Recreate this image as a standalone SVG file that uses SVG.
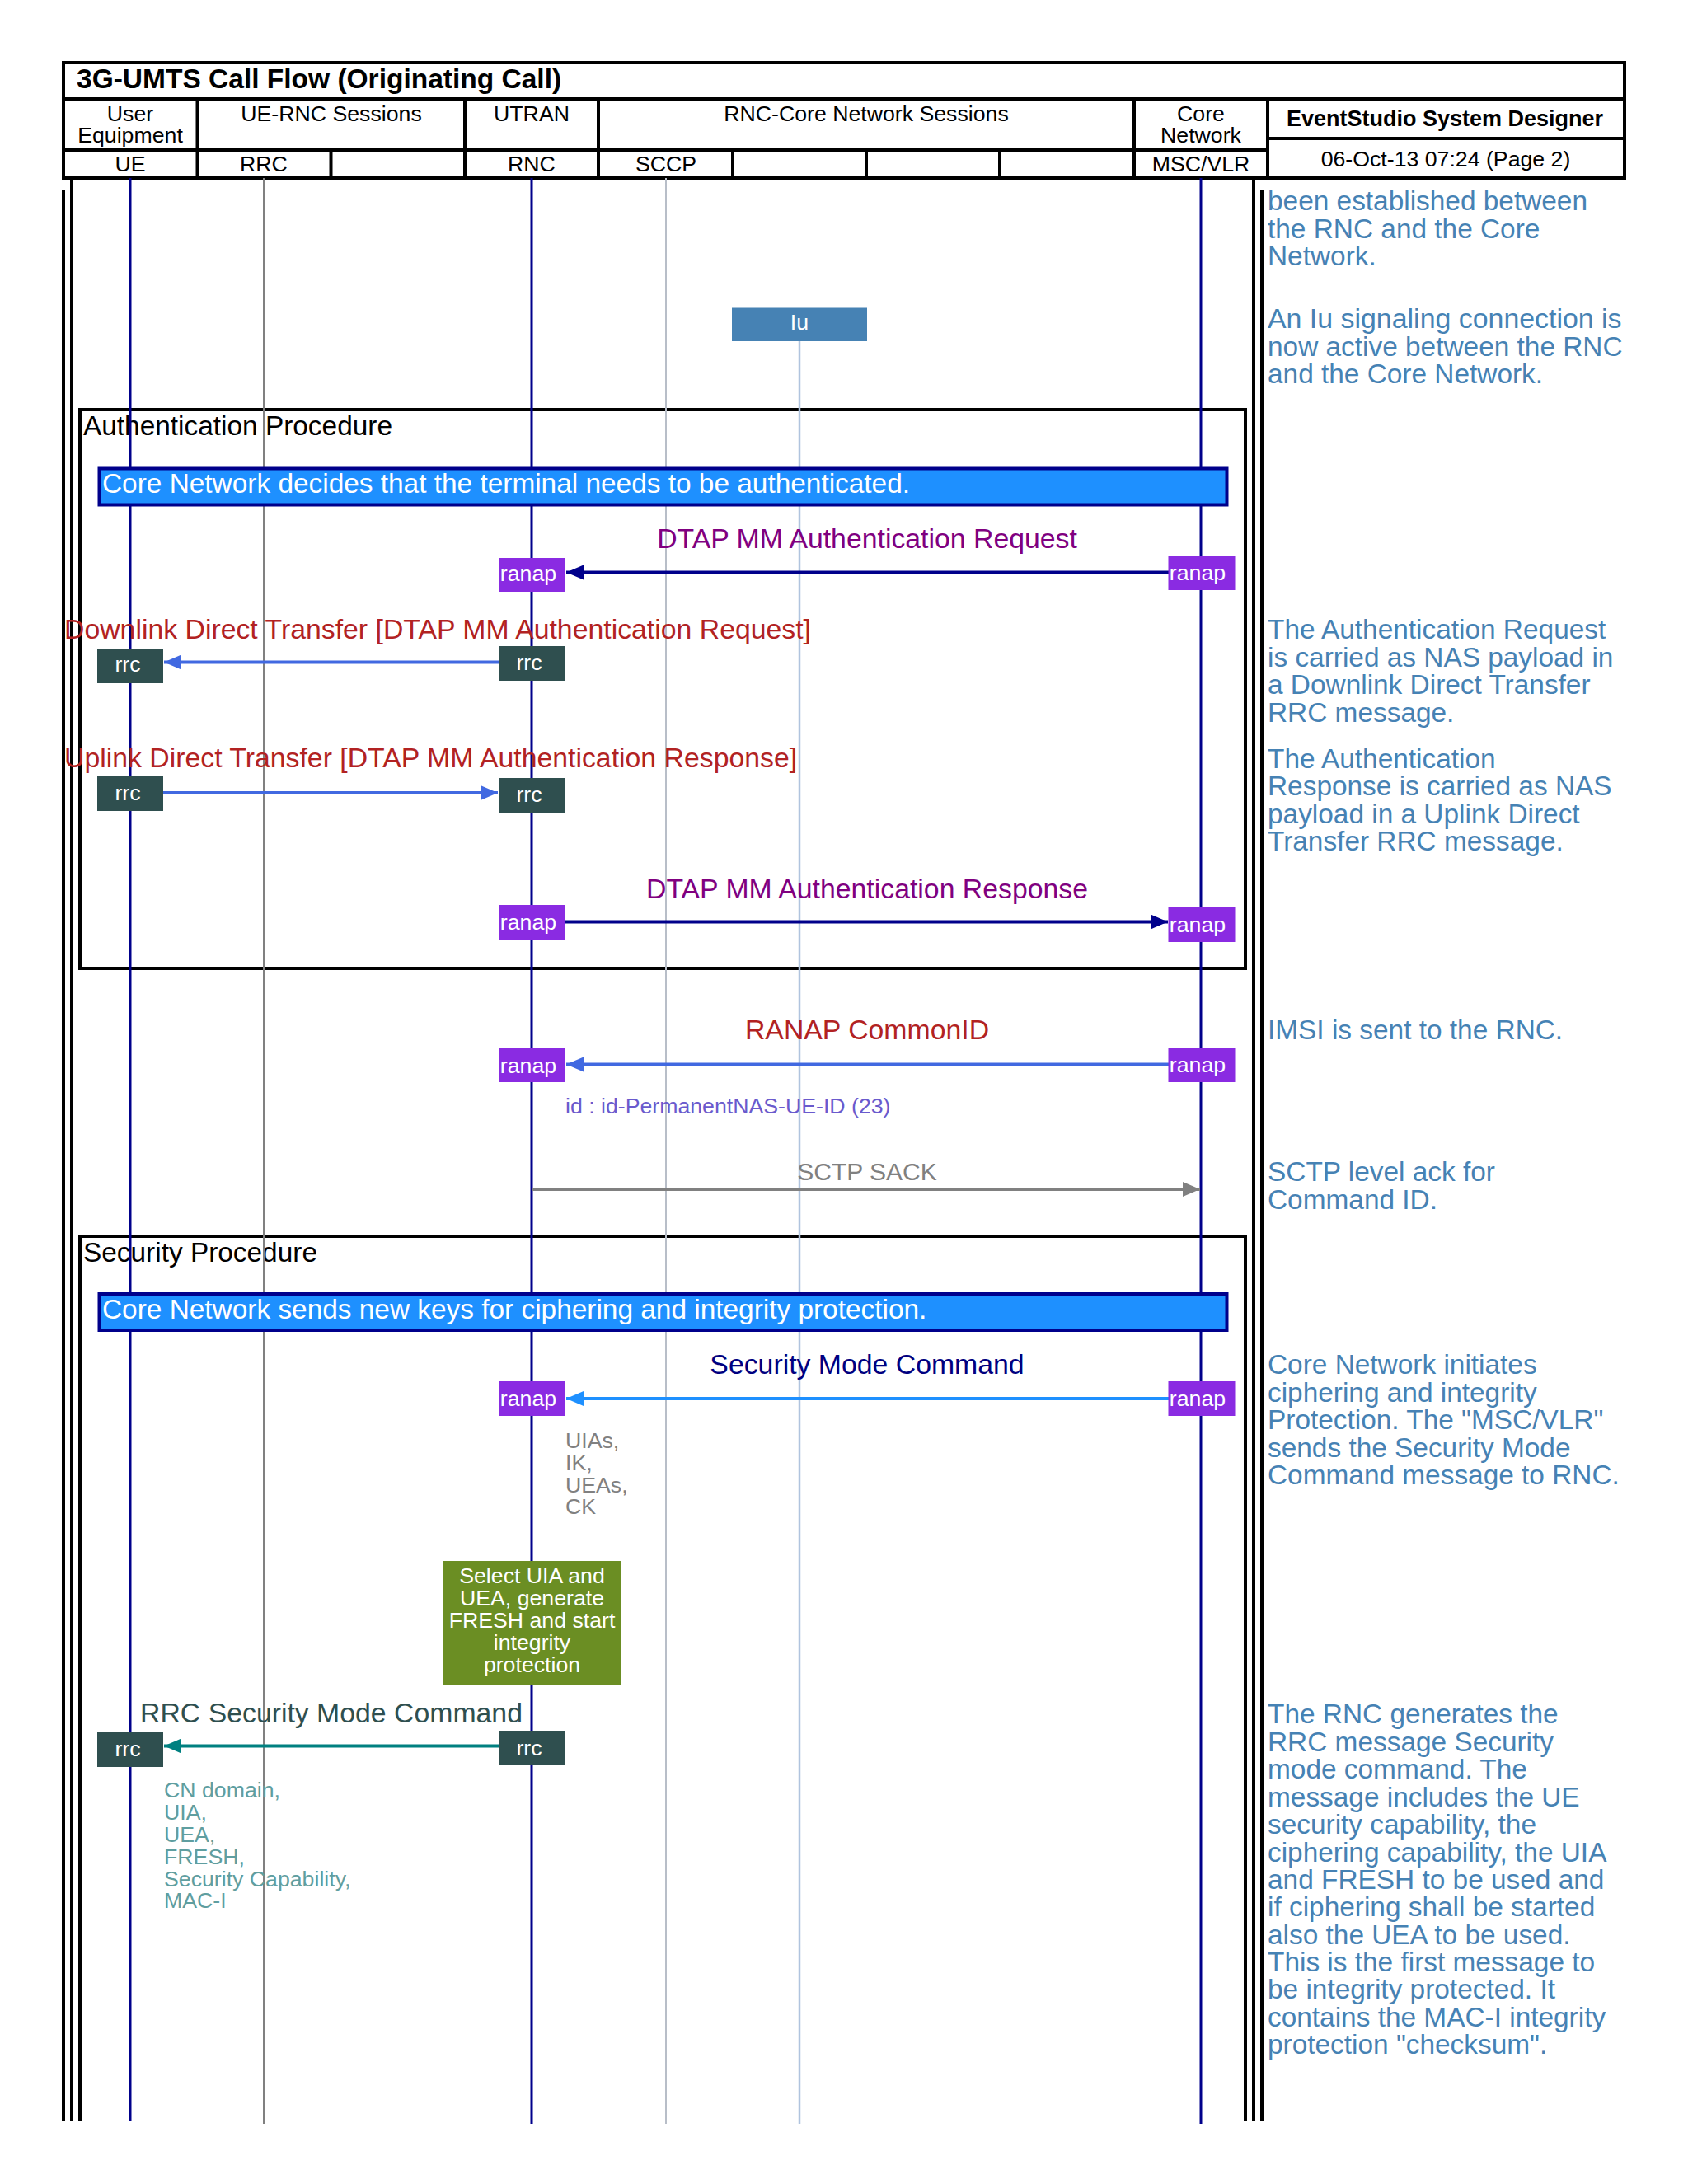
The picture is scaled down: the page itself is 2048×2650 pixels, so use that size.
<svg xmlns="http://www.w3.org/2000/svg" width="2048" height="2650" viewBox="0 0 2048 2650">
<style>
text{font-family:"Liberation Sans",Arial,sans-serif}
.b{fill:none;stroke:#000;stroke-width:4}
.h{font-size:26.7px;text-anchor:middle;fill:#000}
.note{font-size:33.4px;fill:#4682B4}
.ll{fill:none;stroke-width:3}
.nv{stroke:#00008B}
.gr{stroke:#808080;stroke-width:2}
.lb{stroke:#B0C4DE;stroke-width:2.500}
.lg{stroke:#B8BEC8;stroke-width:2}
.m{font-size:33.800px;text-anchor:middle}
.st{font-size:33.400px}
.red{font-size:33.800px;fill:#B22222}
.ar{fill:none;stroke-width:4}
.ranap{fill:#8A2BE2}
.rrc{fill:#2F4F4F}
.bt{font-size:26.7px;fill:#fff;text-anchor:middle}
.sm{font-size:26.7px}
</style>
<defs>
<marker id="aNavy" markerUnits="userSpaceOnUse" markerWidth="21" markerHeight="18" refX="21" refY="9" orient="auto"><path d="M0,0L21,9L0,18z" fill="#00008B"/></marker>
<marker id="aRoyal" markerUnits="userSpaceOnUse" markerWidth="21" markerHeight="18" refX="21" refY="9" orient="auto"><path d="M0,0L21,9L0,18z" fill="#4169E1"/></marker>
<marker id="aGray" markerUnits="userSpaceOnUse" markerWidth="21" markerHeight="18" refX="21" refY="9" orient="auto"><path d="M0,0L21,9L0,18z" fill="#808080"/></marker>
<marker id="aDodger" markerUnits="userSpaceOnUse" markerWidth="21" markerHeight="18" refX="21" refY="9" orient="auto"><path d="M0,0L21,9L0,18z" fill="#1E90FF"/></marker>
<marker id="aTeal" markerUnits="userSpaceOnUse" markerWidth="21" markerHeight="18" refX="21" refY="9" orient="auto"><path d="M0,0L21,9L0,18z" fill="#008080"/></marker>
</defs>
<rect width="2048" height="2650" fill="#fff"/>
<g id="frame">
<rect class="b" x="77" y="76" width="1894" height="140"/>
<path class="b" d="M77 120H1971M77 182H1538M239.500 120V216M564 120V216M726 120V216M1376 120V216M1538 120V216M401.500 182V216M889 182V216M1051 182V216M1213 182V216M1538 168H1971"/>
<path class="b" d="M77 230V2574M87 216V2574M1521 216V2574M1531 230V2574"/>
<text x="93" y="107" font-size="33.500" font-weight="bold">3G-UMTS Call Flow (Originating Call)</text>
<text class="h" x="158" y="147">User</text><text class="h" x="158" y="173">Equipment</text>
<text class="h" x="402" y="147">UE-RNC Sessions</text>
<text class="h" x="645" y="147">UTRAN</text>
<text class="h" x="1051" y="147">RNC-Core Network Sessions</text>
<text class="h" x="1457" y="147">Core</text><text class="h" x="1457" y="173">Network</text>
<text class="h" x="158" y="208">UE</text><text class="h" x="320" y="208">RRC</text><text class="h" x="645" y="208">RNC</text><text class="h" x="808" y="208">SCCP</text><text class="h" x="1457" y="208">MSC/VLR</text>
<text class="h" x="1753" y="153" font-weight="bold" style="font-size:27px">EventStudio System Designer</text>
<text class="h" x="1754" y="202">06-Oct-13 07:24 (Page 2)</text>
</g>
<g id="authentication-frame">
<path class="b" d="M97 1175V497H1511V1175Z"/>
<text class="st" x="101" y="528">Authentication Procedure</text>
</g>
<g id="security-frame">
<path class="b" d="M97 2574V1500H1511V2574"/>
<text class="st" x="101" y="1530.500">Security Procedure</text>
</g>
<g id="connectors">
<path class="ll nv" d="M158 216V2574M645 216V2577M1457 216V2577"/>
<path class="ll gr" d="M320 216V2577"/>
<path class="ll lg" d="M808 216V2577"/>
<path class="ll lb" d="M970 414V2577"/>
<path class="ar" stroke="#00008B" marker-end="url(#aNavy)" d="M1418 694.500H687"/>
<path class="ar" stroke="#4169E1" marker-end="url(#aRoyal)" d="M605 803.500H199"/>
<path class="ar" stroke="#4169E1" marker-end="url(#aRoyal)" d="M198 962H604"/>
<path class="ar" stroke="#00008B" marker-end="url(#aNavy)" d="M686 1118.500H1417"/>
<path class="ar" stroke="#4169E1" marker-end="url(#aRoyal)" d="M1418 1291.500H687"/>
<path class="ar" stroke="#808080" marker-end="url(#aGray)" d="M646 1443H1456"/>
<path class="ar" stroke="#1E90FF" marker-end="url(#aDodger)" d="M1418 1697H687"/>
<path class="ar" stroke="#008080" marker-end="url(#aTeal)" d="M605 2118.500H199"/>
</g>
<g id="iu"><rect x="888" y="373.500" width="164" height="40.500" fill="#4682B4"/><text class="bt" x="970" y="400">Iu</text></g>
<g id="banner-auth"><rect x="120.500" y="568.500" width="1368" height="44" fill="#1E90FF" stroke="#00008B" stroke-width="4"/><text class="st" x="124" y="598" fill="#fff">Core Network decides that the terminal needs to be authenticated.</text></g>
<g id="msg-auth-req">
<text class="m" x="1052" y="665" fill="#800080">DTAP MM Authentication Request</text>
<rect class="ranap" x="605.500" y="677" width="80" height="41"/><text class="bt" x="641" y="705">ranap</text>
<rect class="ranap" x="1417.500" y="675" width="81" height="41"/><text class="bt" x="1453" y="704">ranap</text>
</g>
<g id="msg-dl">
<text class="red" x="78" y="774.500">Downlink Direct Transfer [DTAP MM Authentication Request]</text>
<rect class="rrc" x="118" y="787" width="80" height="42"/><text class="bt" x="155" y="815">rrc</text>
<rect class="rrc" x="605.500" y="784" width="80" height="42"/><text class="bt" x="642" y="813">rrc</text>
</g>
<g id="msg-ul">
<text class="red" x="78" y="931">Uplink Direct Transfer [DTAP MM Authentication Response]</text>
<rect class="rrc" x="118" y="942" width="80" height="42"/><text class="bt" x="155" y="971">rrc</text>
<rect class="rrc" x="605.500" y="944" width="80" height="42"/><text class="bt" x="642" y="973">rrc</text>
</g>
<g id="msg-auth-resp">
<text class="m" x="1052" y="1090" fill="#800080">DTAP MM Authentication Response</text>
<rect class="ranap" x="605.500" y="1098" width="80" height="42"/><text class="bt" x="641" y="1128">ranap</text>
<rect class="ranap" x="1417.500" y="1101" width="81" height="42"/><text class="bt" x="1453" y="1131">ranap</text>
</g>
<g id="msg-common">
<text class="m" x="1052" y="1261" fill="#B22222">RANAP CommonID</text>
<rect class="ranap" x="605.500" y="1272" width="80" height="41"/><text class="bt" x="641" y="1302">ranap</text>
<rect class="ranap" x="1417.500" y="1272" width="81" height="41"/><text class="bt" x="1453" y="1301">ranap</text>
<text class="sm" x="686" y="1351" fill="#6A5ACD">id : id-PermanentNAS-UE-ID (23)</text>
</g>
<g id="msg-sack"><text x="1052" y="1432" font-size="30" text-anchor="middle" fill="#808080">SCTP SACK</text></g>
<g id="banner-sec"><rect x="120.500" y="1570" width="1368" height="44" fill="#1E90FF" stroke="#00008B" stroke-width="4"/><text class="st" x="124" y="1600" fill="#fff">Core Network sends new keys for ciphering and integrity protection.</text></g>
<g id="msg-sec">
<text class="m" x="1052" y="1667" fill="#000080">Security Mode Command</text>
<rect class="ranap" x="605.500" y="1676" width="80" height="42"/><text class="bt" x="641" y="1706">ranap</text>
<rect class="ranap" x="1417.500" y="1676" width="81" height="42"/><text class="bt" x="1453" y="1706">ranap</text>
<g class="sm" fill="#808080"><text x="686" y="1757">UIAs,</text><text x="686" y="1784">IK,</text><text x="686" y="1811">UEAs,</text><text x="686" y="1837">CK</text></g>
</g>
<g id="action"><rect x="538" y="1894" width="215" height="150" fill="#6B8E23"/>
<g class="bt"><text x="645.500" y="1921">Select UIA and</text><text x="645.500" y="1948">UEA, generate</text><text x="645.500" y="1975">FRESH and start</text><text x="645.500" y="2002">integrity</text><text x="645.500" y="2029">protection</text></g></g>
<g id="msg-rrc">
<text class="m" x="402" y="2090" fill="#2F4F4F">RRC Security Mode Command</text>
<rect class="rrc" x="118" y="2102" width="80" height="42"/><text class="bt" x="155" y="2131">rrc</text>
<rect class="rrc" x="605.500" y="2100" width="80" height="42"/><text class="bt" x="642" y="2130">rrc</text>
<g class="sm" fill="#5F9EA0"><text x="199" y="2181">CN domain,</text><text x="199" y="2208">UIA,</text><text x="199" y="2235">UEA,</text><text x="199" y="2262">FRESH,</text><text x="199" y="2289">Security Capability,</text><text x="199" y="2315">MAC-I</text></g>
</g>
<g id="notes" class="note">
<text x="1538" y="255">been established between</text><text x="1538" y="288.500">the RNC and the Core</text><text x="1538" y="322">Network.</text>
<text x="1538" y="398" style="font-size:33.900px">An Iu signaling connection is</text><text x="1538" y="432">now active between the RNC</text><text x="1538" y="465">and the Core Network.</text>
<text x="1538" y="775">The Authentication Request</text><text x="1538" y="808.500">is carried as NAS payload in</text><text x="1538" y="842">a Downlink Direct Transfer</text><text x="1538" y="875.500">RRC message.</text>
<text x="1538" y="932">The Authentication</text><text x="1538" y="965">Response is carried as NAS</text><text x="1538" y="999">payload in a Uplink Direct</text><text x="1538" y="1032">Transfer RRC message.</text>
<text x="1538" y="1261">IMSI is sent to the RNC.</text>
<text x="1538" y="1433">SCTP level ack for</text><text x="1538" y="1467">Command ID.</text>
<text x="1538" y="1667">Core Network initiates</text><text x="1538" y="1700.500">ciphering and integrity</text><text x="1538" y="1734">Protection. The "MSC/VLR"</text><text x="1538" y="1767.500">sends the Security Mode</text><text x="1538" y="1801">Command message to RNC.</text>
<text x="1538" y="2091">The RNC generates the</text><text x="1538" y="2124.500">RRC message Security</text><text x="1538" y="2158">mode command. The</text><text x="1538" y="2191.500">message includes the UE</text><text x="1538" y="2225">security capability, the</text><text x="1538" y="2258.500">ciphering capability, the UIA</text><text x="1538" y="2292">and FRESH to be used and</text><text x="1538" y="2325">if ciphering shall be started</text><text x="1538" y="2358.500">also the UEA to be used.</text><text x="1538" y="2392">This is the first message to</text><text x="1538" y="2425">be integrity protected. It</text><text x="1538" y="2459">contains the MAC-I integrity</text><text x="1538" y="2492">protection "checksum".</text>
</g>
</svg>
